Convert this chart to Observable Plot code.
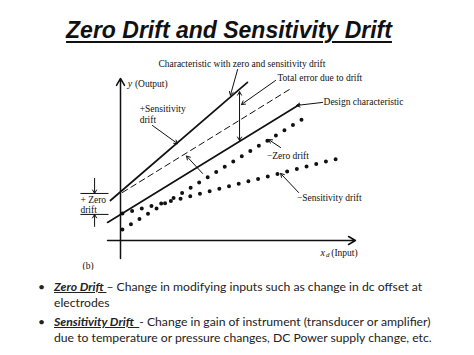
<!DOCTYPE html>
<html><head><meta charset="utf-8">
<script src="https://cdn.jsdelivr.net/npm/d3@7"></script>
<script src="https://cdn.jsdelivr.net/npm/@observablehq/plot@0.6"></script>
<style>
body{margin:0;background:#fff;width:474px;height:355px;position:relative;overflow:hidden;color:#111}
#title{position:absolute;left:-8px;top:16px;width:474px;text-align:center;font:italic bold 23px "Liberation Sans",Arial,sans-serif;text-decoration:underline;text-decoration-thickness:2px;text-underline-offset:3px;line-height:28px;white-space:nowrap}
#chart{position:absolute;left:0;top:55px}
#notes{position:absolute;left:0;top:279px;width:474px;font:12.2px Lato,"Open Sans",sans-serif;line-height:15.5px;color:#222}
.b{position:relative;padding-left:54px;white-space:nowrap}
.b::before{content:"•";position:absolute;left:38px;top:0}
.g{margin-bottom:4px}
.k{font-weight:bold;font-style:italic;text-decoration:underline}
</style></head><body>
<div id="title">Zero Drift and Sensitivity Drift</div>
<div id="chart"></div>
<div id="notes">
<div class="b g"><span class="k">Zero Drift </span>– Change in modifying inputs such as change in dc offset at<br>electrodes</div>
<div class="b"><span class="k">Sensitivity Drift&nbsp;&nbsp;</span>- Change in gain of instrument (transducer or amplifier)<br>due to temperature or pressure changes, DC Power supply change, etc.</div>
</div>
<script>
// Diagram coordinates: x = input, y = output (arbitrary units)
const designLine   = [{x:-0.54, y:1.13}, {x:7.46, y:8.5}];
const driftLine    = [{x:-0.42, y:2.5},  {x:5.29, y:9.88}];
const plusZeroLine = [{x:0.08,  y:3.0},  {x:7.17, y:9.56}];
const minusZeroPts = [{x:0.08,  y:0.69}, {x:7.62, y:7.62}];
const minusSensPts = [{x:0.08,  y:1.69}, {x:9.08, y:5.13}];
const axisArrows = [
  {x1:-0.54, y1:0, x2:9.79, y2:0},
  {x1:0, y1:-1.13, x2:0, y2:10.13}
];
const pointerArrows = [
  {x1:4.88, y1:10.69, x2:4.58, y2:9.08},
  {x1:6.46, y1:10.0,  x2:5.04, y2:8.5},
  {x1:8.42, y1:8.63,  x2:7.33, y2:8.44},
  {x1:1.33, y1:7.19,  x2:2.38, y2:6.05},
  {x1:3.42, y1:4.19,  x2:2.75, y2:5.28},
  {x1:6.67, y1:5.81,  x2:6.17, y2:6.31},
  {x1:7.42, y1:3.0,   x2:6.67, y2:4.19},
  {x1:4.96, y1:7.8,   x2:4.96, y2:9.3},
  {x1:4.96, y1:7.8,   x2:4.96, y2:6.25},
  {x1:-1.08, y1:3.88, x2:-1.08, y2:2.94},
  {x1:-1.08, y1:0.88, x2:-1.08, y2:1.63}
];
const zeroMarks = [
  {x1:-1.67, x2:-0.5, y:2.94},
  {x1:-1.67, x2:-0.5, y:1.63}
];
const labels = [
  {text:"Characteristic with zero and sensitivity drift", x:1.58, y:11.06},
  {text:"Total error due to drift", x:6.54, y:10.13},
  {text:"Design characteristic", x:8.46, y:8.63},
  {text:"(Output)", x:0.6, y:9.81},
  {text:"+Sensitivity", x:0.8, y:8.22},
  {text:"drift", x:0.8, y:7.53},
  {text:"\u2212Zero drift", x:6.1, y:5.28},
  {text:"\u2212Sensitivity drift", x:7.35, y:2.66},
  {text:"(Input)", x:8.78, y:-0.75},
  {text:"+ Zero", x:-1.67, y:2.56},
  {text:"drift", x:-1.67, y:1.94},
  {text:"(b)", x:-1.58, y:-1.56}
];
const italicLabels = [
  {text:"y", x:0.3, y:9.81},
  {text:"x", x:8.33, y:-0.75}
];
const subLabels = [{text:"d", x:8.56, y:-0.88}];

const ink = "#111";
const serif = "Liberation Serif, Times New Roman, serif";
const chart = Plot.plot({
  width: 474, height: 215,
  margin: 0,
  x: {domain:[0,10], range:[120,360], axis:null},
  y: {domain:[0,10], range:[185,25], axis:null},
  marks: [
    Plot.line(designLine,  {x:"x", y:"y", stroke:ink, strokeWidth:1.7}),
    Plot.line(driftLine,   {x:"x", y:"y", stroke:ink, strokeWidth:1.7}),
    Plot.line(plusZeroLine,{x:"x", y:"y", stroke:ink, strokeWidth:1, strokeDasharray:"6,4"}),
    Plot.line(minusZeroPts,{x:"x", y:"y", stroke:ink, strokeWidth:4, strokeLinecap:"round", strokeDasharray:"0,10"}),
    Plot.line(minusSensPts,{x:"x", y:"y", stroke:ink, strokeWidth:4, strokeLinecap:"round", strokeDasharray:"0,10"}),
    Plot.arrow(axisArrows, {x1:"x1", y1:"y1", x2:"x2", y2:"y2", stroke:ink, strokeWidth:1.5, headLength:8}),
    Plot.arrow(pointerArrows, {x1:"x1", y1:"y1", x2:"x2", y2:"y2", stroke:ink, strokeWidth:1, headLength:6}),
    Plot.link(zeroMarks, {x1:"x1", x2:"x2", y1:"y", y2:"y", stroke:ink, strokeWidth:1}),
    Plot.text(labels, {x:"x", y:"y", text:"text", textAnchor:"start", fontFamily:serif, fontSize:9.5, fill:ink}),
    Plot.text(italicLabels, {x:"x", y:"y", text:"text", textAnchor:"start", fontFamily:serif, fontSize:10, fontStyle:"italic", fill:ink}),
    Plot.text(subLabels, {x:"x", y:"y", text:"text", textAnchor:"start", fontFamily:serif, fontSize:7, fontStyle:"italic", fill:ink})
  ]
});
document.getElementById("chart").appendChild(chart);
</script>
</body></html>
